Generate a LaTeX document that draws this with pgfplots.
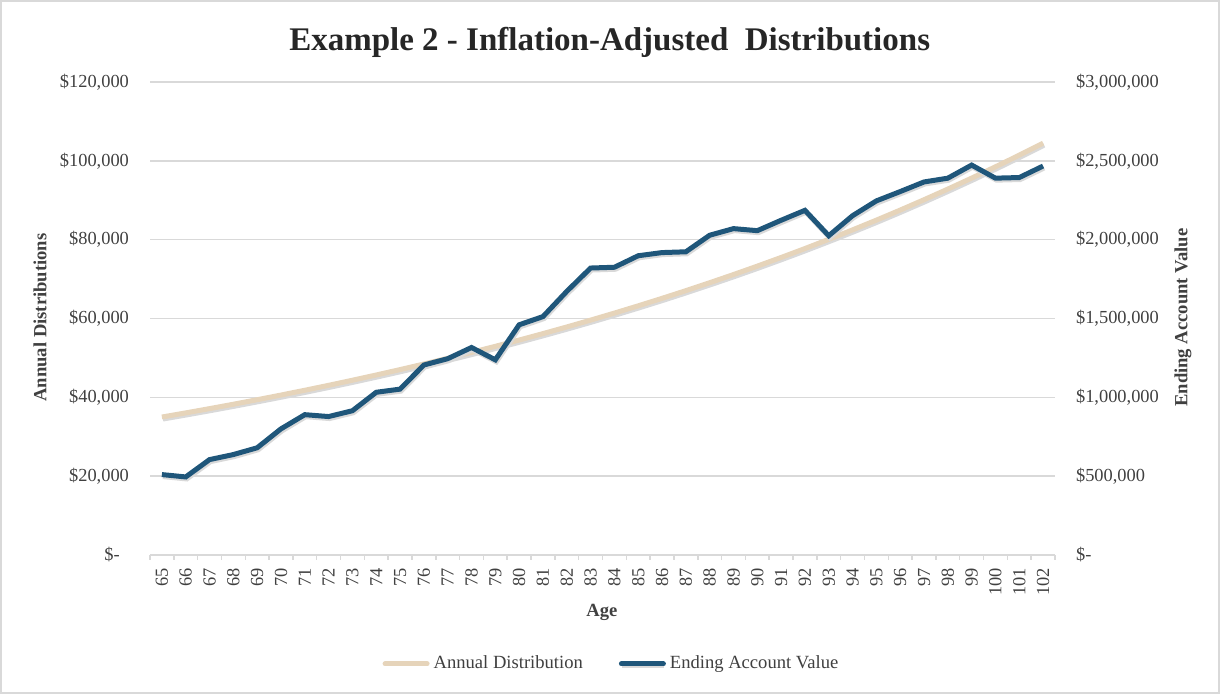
\documentclass[border=0pt]{standalone}
\usepackage{fontspec}
\setmainfont{Liberation Serif}
\usepackage{pgfplots}
\usepackage{pgfplotstable}
\pgfplotsset{compat=1.18}

\definecolor{distbeige}{RGB}{230,212,186}
\definecolor{acctblue}{RGB}{31,86,122}
\definecolor{gridgray}{RGB}{217,217,217}
\definecolor{txtgray}{RGB}{64,64,64}

% annual distribution (left axis)
\pgfplotstableread{
age dist
65 35000
66 36050
67 37132
68 38245
69 39393
70 40575
71 41792
72 43046
73 44337
74 45667
75 47037
76 48448
77 49902
78 51399
79 52941
80 54529
81 56165
82 57850
83 59585
84 61373
85 63214
86 65110
87 67064
88 69076
89 71148
90 73282
91 75481
92 77745
93 80078
94 82480
95 84954
96 87503
97 90128
98 92832
99 95617
100 98485
101 101440
102 104483
}\distdata

% ending account value (right axis)
\pgfplotstableread{
age value
65 510000
66 495000
67 605000
68 637000
69 680000
70 800000
71 890000
72 878000
73 915000
74 1032000
75 1052000
76 1205000
77 1245000
78 1316000
79 1238000
80 1460000
81 1512000
82 1672000
83 1820000
84 1825000
85 1898000
86 1918000
87 1923000
88 2028000
89 2070000
90 2057000
91 2123000
92 2186000
93 2025000
94 2152000
95 2246000
96 2305000
97 2366000
98 2390000
99 2473000
100 2390000
101 2394000
102 2467000
}\acctdata

\begin{document}
\begin{tikzpicture}
\path[use as bounding box] (0,0) rectangle (610pt,347pt);
\draw[gridgray, line width=1pt] (0.5pt,0.5pt) rectangle (609.5pt,346.5pt);
\pgfplotsset{
  base/.style={
    scale only axis, width=452.5pt, height=236.5pt,
    at={(75pt,69.5pt)}, anchor=south west,
    xmin=64.5, xmax=102.5, ymin=0,
    scaled y ticks=false,
    font=\fontsize{9.2}{11}\selectfont,
    /pgf/number format/assume math mode=true,
    tick label style={text=txtgray},
    label style={font=\fontsize{9.3}{11}\selectfont\bfseries, text=txtgray},
    major tick length=0pt, minor tick length=2.5pt, tick align=outside,
  },
  shadowed/.style={preaction={draw=black!15, line width=2.5pt,
      transform canvas={xshift=0.5pt, yshift=-1pt}}},
}
\begin{axis}[base,
  ymax=120000,
  axis x line*=bottom, axis y line*=left,
  x axis line style={gridgray, line width=0.75pt, -},
  y axis line style={draw=none},
  ytick={0,20000,...,120000},
  yticklabels={\$-\hphantom{0}, {\$20,000}, {\$40,000}, {\$60,000}, {\$80,000}, {\$100,000}, {\$120,000}},
  yticklabel style={xshift=-7pt},
  ymajorgrids, grid style={gridgray, line width=0.75pt},
  xtick={65,...,102},
  minor xtick={64.5,65.5,...,102.5},
  minor tick style={gridgray, line width=0.75pt},
  xticklabel style={rotate=90, anchor=east, xshift=-3pt},
  xlabel={Age},
  xlabel style={at={(axis description cs:0.4994,-0.1205)}, anchor=center},
  ylabel={Annual Distributions},
  ylabel style={at={(axis description cs:-0.1215,0.502)}, anchor=center},
  title={Example 2 - Inflation-Adjusted\ \ Distributions},
  title style={at={(axis description cs:0.508,1.093)}, anchor=center, yshift=-8pt,
    font=\fontsize{16.5}{19}\selectfont\bfseries, text=black!85},
]
\addplot[distbeige, line width=2.5pt, shadowed] table[x=age, y=dist] {\distdata};
\end{axis}
\begin{axis}[base,
  ymax=3000000,
  axis x line=none, axis y line*=right,
  y axis line style={draw=none},
  ytick={0,500000,...,3000000},
  yticklabels={\$-, {\$500,000}, {\$1,000,000}, {\$1,500,000}, {\$2,000,000}, {\$2,500,000}, {\$3,000,000}},
  yticklabel style={anchor=west, xshift=7pt},
  ylabel={Ending Account Value},
  ylabel style={at={(axis description cs:1.1414,0.502)}, anchor=center},
  legend style={at={(axis description cs:0.511,-0.2304)}, anchor=center,
    draw=none, font=\fontsize{9.3}{11}\selectfont, text=txtgray,
    /tikz/every even column/.append style={column sep=16pt}},
  legend columns=2,
  legend image code/.code={\draw[#1, line cap=round] (0pt,0pt) -- (21pt,0pt);},
]
\addlegendimage{distbeige, line width=2.5pt}
\addlegendentry{Annual Distribution}
\addplot[acctblue, line width=2.5pt, shadowed] table[x=age, y=value] {\acctdata};
\addlegendentry{Ending Account Value}
\end{axis}
\end{tikzpicture}
\end{document}
